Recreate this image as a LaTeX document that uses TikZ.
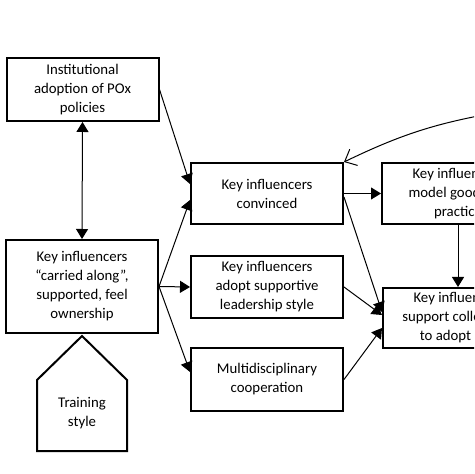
\documentclass[tikz,border=0pt]{standalone}
\usepackage{fontspec}
\setmainfont{Carlito}
\usetikzlibrary{arrows.meta,calc}

\tikzset{
  box/.style={draw, line width=1pt, minimum width=76pt, align=center, inner sep=1pt,
    font=\fontsize{7.4}{9.5}\selectfont},
  >={Triangle[length=5pt,width=6pt]},
}

\begin{document}
\begin{tikzpicture}[x=0.5pt,y=-0.5pt,line width=0.5pt]
    \useasboundingbox (0,0) rectangle (474,474);
    \clip (0,0) rectangle (474,474);
    % left column
    \node[box, minimum height=31.5pt] (policy) at (82.5,89.5) {Institutional\\adoption of POx\\policies};
    \node[box, minimum height=46.5pt] (along) at (82,286.5) {Key influencers\\“carried along”,\\supported, feel\\ownership};
    \draw[line width=1pt, line join=miter] (37,451) -- (37,380) -- (82,336) -- (127,380) -- (127,451) -- cycle;
    \node[font=\fontsize{7.4}{9.5}\selectfont, align=center] (training) at (82,413) {Training\\style};
    % middle column
    \node[box, minimum height=30.5pt] (convinced) at (267,193.5) {Key influencers\\convinced};
    \node[box, minimum height=31pt] (leader) at (267,287) {Key influencers\\adopt supportive\\leadership style};
    \node[box, minimum height=31.5pt] (multi) at (267,379.5) {Multidisciplinary\\cooperation};
    % right column
    \node[box, minimum height=30.5pt] (model) at (458,193.5) {Key influencers\\model good POx\\practice};
    \node[box, minimum height=30pt] (support) at (459,318) {Key influencers\\support colleagues\\to adopt POx};
    \coordinate (loop) at (500,112);
    % connectors
    \draw[<->] (policy.south) -- (along.north);
    \draw[->] (policy.east) -- ($(convinced.west)+(0,-9.5)$);
    \draw[->] (along.east) -- ($(convinced.west)+(0,6.5)$);
    \draw[->] (along.east) -- (leader.west);
    \draw[->] (along.east) -- ($(multi.west)+(0,-7.5)$);
    \draw[->] (convinced.east) -- (model.west);
    \draw[->] ($(convinced.east)+(0,3.5)$) -- ($(support.west)+(0,-6)$);
    \draw[->] (leader.east) -- ($(support.west)+(0,-3)$);
    \draw[->] (multi.east) -- ($(support.west)+(0,10)$);
    \draw[->] (model.south) -- (model.south |- support.north);
    \draw[-{Straight Barb[length=5pt,width=9pt]}] (loop) to[bend right=8] (convinced.north east);
\end{tikzpicture}
\end{document}
